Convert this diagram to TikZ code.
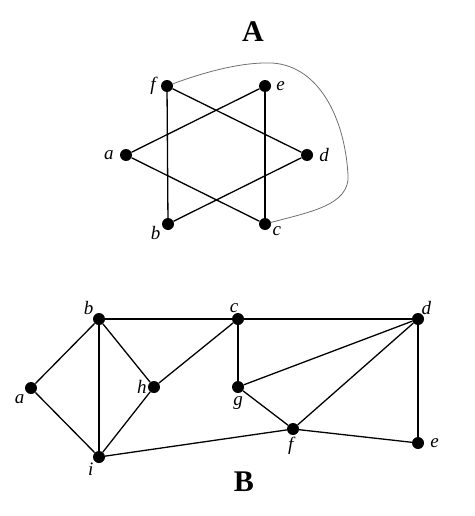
\documentclass[tikz,border=0pt]{standalone}
\usepackage{fontspec}
\setmainfont{Liberation Serif}
\usetikzlibrary{positioning}
\definecolor{ink}{HTML}{000000}
\definecolor{loop}{HTML}{707070}
\tikzset{
  dot/.style={circle,fill=ink,minimum size=12pt,inner sep=0pt},
  lbl/.style={inner sep=0pt,font=\fontsize{19}{19}\selectfont\itshape,text=ink},
  ttl/.style={inner sep=0pt,font=\fontsize{30}{30}\selectfont\bfseries,text=ink},
  edge/.style={draw=ink,line width=1.3pt},
  wrap/.style={draw=loop,line width=.8pt},
}
\begin{document}
\begin{tikzpicture}[x=1pt,y=-1pt]
  \useasboundingbox (0,0) rectangle (474,516);
  % upper graph
  \node[ttl] (tA) at (253,32) {A};
  \foreach \n/\x/\y in {a/126/155,b/168/224,c/265/224,d/307/155,e/265/86,f/167/86}
    \node[dot] (t\n) at (\x,\y) {};
  \node[lbl,left=5pt of tf] (lf) {f};
  \node[lbl,right=5pt of te] (le) {e};
  \node[lbl,left=6pt of ta] (la) {a};
  \node[lbl,right=6pt of td] (ld) {d};
  \node[lbl,below left=-2pt and 3pt of tb] (lb) {b};
  \node[lbl,below right=-2pt and 3pt of tc] (lc) {c};
  \foreach \u/\v in {f/b,e/c,f/d,a/e,a/c,d/b}
    \draw[edge] (t\u) -- (t\v);
  \draw[wrap] (tf) .. controls (210,70) and (245,62) .. (272,63)
    .. controls (320,66) and (345,120) .. (348,175)
    .. controls (350,205) and (310,212) .. (tc);
  % lower graph
  \node[ttl] (tB) at (244,482) {B};
  \foreach \n/\x/\y in {a/31/388,b/99/319,c/238/319,d/418/319,e/418/443,f/293/429,g/238/387,h/154/387,i/99/457}
    \node[dot] (b\n) at (\x,\y) {};
  \node[lbl,above left=0pt and 1pt of bb] (mb) {b};
  \node[lbl,above left=2pt and -5pt of bc] (mc) {c};
  \node[lbl,above right=0pt and -1pt of bd] (md) {d};
  \node[lbl,below left=2pt and 2pt of ba] (ma) {a};
  \node[lbl,left=1pt of bh] (mh) {h};
  \node[lbl,below=3pt of bg] (mg) {g};
  \node[lbl,below left=4pt and -5pt of bf] (mf) {f};
  \node[lbl,right=6pt of be] (me) {e};
  \node[lbl,below left=1pt and 1pt of bi] (mi) {i};
  \foreach \u/\v in {b/c,c/d,b/a,a/i,b/i,b/h,h/i,h/c,c/g,g/d,g/f,f/d,d/e,f/e,i/f}
    \draw[edge] (b\u) -- (b\v);
\end{tikzpicture}
\end{document}
